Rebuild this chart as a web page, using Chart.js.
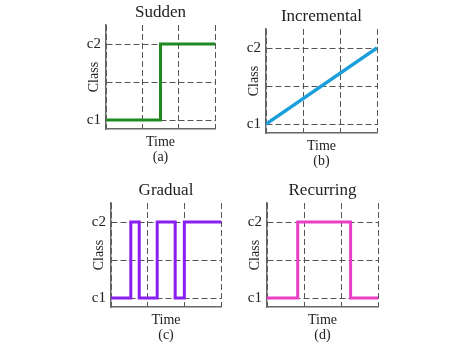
<!DOCTYPE html>
<html>
<head>
<meta charset="utf-8">
<script src="https://cdn.jsdelivr.net/npm/chart.js@4/dist/chart.umd.min.js"></script>
<style>
  html, body { margin: 0; padding: 0; background: #fff; }
  body { width: 474px; height: 349px; position: relative; overflow: hidden; }
  .panel { position: absolute; }
</style>
</head>
<body>
<div class="panel" id="p-a"><canvas id="chart-a"></canvas></div>
<div class="panel" id="p-b"><canvas id="chart-b"></canvas></div>
<div class="panel" id="p-c"><canvas id="chart-c"></canvas></div>
<div class="panel" id="p-d"><canvas id="chart-d"></canvas></div>
<script>
// class levels and their tick labels
const classValues = [0, 0.5, 1];
const classLabels = ["c1", "", "c2"];
const timeGrid = [0, 1, 2, 3];

// Sudden drift
const suddenTime = [0, 1.5, 1.5, 3];
const suddenClass = [0, 0, 1, 1];

// Incremental drift
const incrementalTime = [0, 3];
const incrementalClass = [0, 1];

// Gradual drift
const gradualTime = [0, 0.54, 0.54, 0.77, 0.77, 1.26, 1.26, 1.75, 1.75, 2.0, 2.0, 3];
const gradualClass = [0, 0, 1, 1, 0, 0, 1, 1, 0, 0, 1, 1];

// Recurring drift
const recurringTime = [0, 0.83, 0.83, 2.26, 2.26, 3];
const recurringClass = [0, 0, 1, 1, 0, 0];

const serif = "'Liberation Serif', 'DejaVu Serif', serif";
const textColor = "#222";
const gridColor = "#555";

// where each plot sits on the page (left, right, y of c1, y of c2)
const panels = [
    { id: "a", title: "Sudden", time: suddenTime, cls: suddenClass, color: "#1f8a22", width: 3, cl: 106, cr: 215, c1: 120, c2: 44 },
    { id: "b", title: "Incremental", time: incrementalTime, cls: incrementalClass, color: "#1a9fdb", width: 3.5, cl: 266, cr: 377, c1: 124, c2: 48 },
    { id: "c", title: "Gradual", time: gradualTime, cls: gradualClass, color: "#8a1ff0", width: 3, cl: 111, cr: 221, c1: 298, c2: 222 },
    { id: "d", title: "Recurring", time: recurringTime, cls: recurringClass, color: "#e83fc6", width: 3, cl: 267, cr: 378, c1: 298, c2: 222 }
];

const yMin = -0.12, yMax = 1.25;
const topH = 25, bottomH = 37, leftW = 28, padRight = 4;

panels.forEach(p => {
    const unit = p.c1 - p.c2;
    const areaH = unit * (yMax - yMin);
    const ct = p.c2 - unit * (yMax - 1);
    const T = Math.round(ct - topH);
    const L = p.cl - leftW;
    const W = p.cr + padRight - L;
    const H = Math.round(ct - T + areaH + bottomH + 2);
    const padTop = ct - T - topH;
    const padBottom = H - padTop - topH - areaH - bottomH;

    const box = document.getElementById("p-" + p.id);
    box.style.left = L + "px";
    box.style.top = T + "px";
    box.style.width = W + "px";
    box.style.height = H + "px";

    new Chart(document.getElementById("chart-" + p.id), {
        type: "line",
        data: {
            datasets: [{
                data: p.time.map((t, i) => ({ x: t, y: p.cls[i] })),
                borderColor: p.color,
                borderWidth: p.width,
                borderJoinStyle: "miter",
                borderCapStyle: "butt",
                pointRadius: 0,
                tension: 0,
                fill: false
            }]
        },
        options: {
            responsive: true,
            maintainAspectRatio: false,
            animation: false,
            layout: { padding: { top: padTop, bottom: padBottom, left: 0, right: padRight } },
            plugins: { legend: { display: false }, tooltip: { enabled: false } },
            scales: {
                x: {
                    type: "linear",
                    min: timeGrid[0],
                    max: timeGrid[timeGrid.length - 1],
                    afterBuildTicks: s => { s.ticks = timeGrid.map(v => ({ value: v })); },
                    afterFit: s => { s.height = bottomH; },
                    ticks: { display: false },
                    grid: { color: gridColor, lineWidth: 1, drawTicks: false },
                    border: { color: "#666", width: 1.5, dash: [6, 3] },
                    title: {
                        display: true,
                        text: ["Time", "(" + p.id + ")"],
                        color: textColor,
                        font: { family: serif, size: 14, lineHeight: "15px" },
                        padding: { top: 0, bottom: 1 }
                    }
                },
                top: {
                    type: "linear",
                    position: "top",
                    min: 0,
                    max: 3,
                    afterFit: s => { s.height = topH; },
                    ticks: { display: false },
                    grid: { display: false, drawTicks: false },
                    border: { display: false },
                    title: {
                        display: true,
                        text: p.title,
                        color: textColor,
                        font: { family: serif, size: 17 },
                        padding: { top: 2, bottom: 0 }
                    }
                },
                y: {
                    type: "linear",
                    min: yMin,
                    max: yMax,
                    afterBuildTicks: s => { s.ticks = classValues.map(v => ({ value: v })); },
                    afterFit: s => { s.width = leftW; },
                    ticks: {
                        color: textColor,
                        padding: 5,
                        font: { family: serif, size: 15 },
                        callback: v => classLabels[classValues.indexOf(v)]
                    },
                    grid: { color: gridColor, lineWidth: 1, drawTicks: false },
                    border: { color: "#666", width: 1.5, dash: [6, 3] },
                    title: {
                        display: true,
                        text: "Class",
                        color: textColor,
                        font: { family: serif, size: 14 },
                        padding: { top: 8, bottom: 0 }
                    }
                }
            }
        }
    });
});
</script>
</body>
</html>
